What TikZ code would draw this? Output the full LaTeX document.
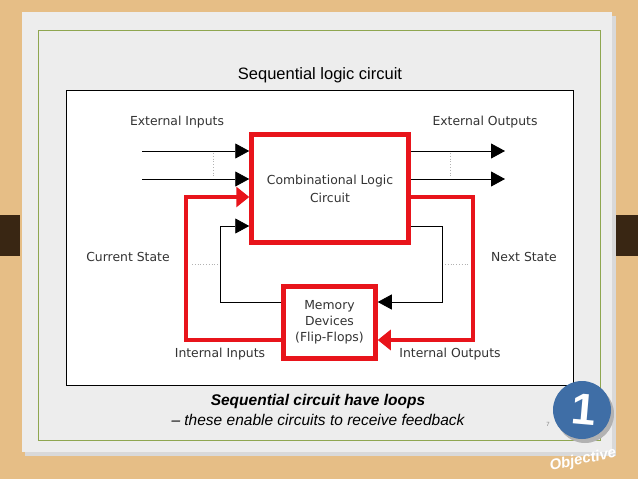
\documentclass[tikz,border=0pt]{standalone}
\usepackage{fontspec}
\setmainfont{Liberation Sans}
\newfontfamily\dv{DejaVu Sans}
\usetikzlibrary{arrows.meta}
\definecolor{wood}{HTML}{E6BE86}
\definecolor{paper}{HTML}{EDEDED}
\definecolor{frame}{HTML}{8FA650}
\definecolor{rd}{HTML}{E8141B}
\definecolor{badge}{HTML}{3F6EA6}
\tikzset{
  blk/.style={draw=black,line width=0.8pt},
  blkarr/.style={blk,-{Triangle[length=14pt,width=15pt]}},
  rdarr/.style={draw=rd,line width=4pt,-{Triangle[length=13pt,width=20pt]}},
  rdbox/.style={draw=rd,line width=4.5pt,fill=white,font=\dv\fontsize{12.4}{15}\selectfont,align=center,inner sep=0pt,text=black!80},
  lbl/.style={font=\dv\fontsize{12.4}{15}\selectfont,text=black!80},
  dot/.style={draw=gray!60,dotted,line width=0.8pt}
}
\begin{document}
\begin{tikzpicture}[x=1pt,y=-1pt]
\useasboundingbox (0,0) rectangle (638,479);
\fill[wood] (0,0) rectangle (638,479);
\fill[black!15] (25,16) rectangle (616,456);
\fill[paper] (22,12) rectangle (612,452);
\fill[black!70!brown] (0,215) rectangle (20,256);
\fill[black!70!brown] (616,215) rectangle (638,256);
\draw[frame,line width=0.8pt] (38,30) rectangle (600,440);
\draw[black,line width=0.8pt,fill=white] (66,90) rectangle (573,385);
\node[font=\fontsize{16.5}{19}\selectfont] (title) at (320,75) {Sequential logic circuit};
% boxes
\node[rdbox,minimum width=157pt,minimum height=108pt] (cl) at (330,188.5) {Combinational Logic\\[3pt]Circuit};
\node[rdbox,minimum width=92pt,minimum height=72pt] (mem) at (329.5,322.5) {Memory\\[1pt]Devices\\[1pt](Flip-Flops)};
% coordinates
\coordinate (i1) at (142,151); \coordinate (i2) at (142,179);
\coordinate (o1) at (505,151); \coordinate (o2) at (505,179);
% external inputs/outputs
\draw[blkarr] (i1) -- (i1 -| cl.west);
\draw[blkarr] (i2) -- (i2 -| cl.west);
\draw[blkarr] (o1 -| cl.east) -- (o1);
\draw[blkarr] (o2 -| cl.east) -- (o2);
\draw[dot] (213,153) -- (213,176);
\draw[dot] (450,153) -- (450,176);
% black feedback
\draw[blkarr] (mem.west |- 0,302) -- (220,302) -- (220,226) -- (cl.west |- 0,226);
\draw[blkarr] (cl.east |- 0,226) -- (442,226) -- (442,302) -- (mem.east |- 0,302);
% red feedback
\draw[rdarr] (mem.west |- 0,340) -- (186,340) -- (186,197) -- (cl.west |- 0,197);
\draw[rdarr] (cl.east |- 0,197) -- (473,197) -- (473,340) -- (mem.east |- 0,340);
\draw[dot] (192,264) -- (218,264);
\draw[dot] (445,264) -- (468,264);
% labels
\node[lbl] (ei) at (177,122) {External Inputs};
\node[lbl] (eo) at (485,122) {External Outputs};
\node[lbl] (cs) at (128,257) {Current State};
\node[lbl] (ns) at (524,257) {Next State};
\node[lbl] (ii) at (220,354) {Internal Inputs};
\node[lbl] (io) at (450,354) {Internal Outputs};
% caption
\node[font=\bfseries\itshape\fontsize{15.5}{18}\selectfont] (c1) at (318,401) {Sequential circuit have loops};
\node[font=\itshape\fontsize{15.5}{18}\selectfont] (c2) at (318,420) {-- these enable circuits to receive feedback};
\node[font=\fontsize{6}{7}\selectfont,text=gray] (pg) at (548,424) {7};
% badge
\fill[black!30] (585,414) circle (29);
\fill[badge] (582,410) circle (29);
\node[font=\bfseries\fontsize{44}{44}\selectfont,text=white,rotate=-5] (one) at (584,409) {1};
\node[font=\bfseries\itshape\fontsize{15}{15}\selectfont,text=white,rotate=12] (obj) at (583,460) {Objective};
\end{tikzpicture}
\end{document}
